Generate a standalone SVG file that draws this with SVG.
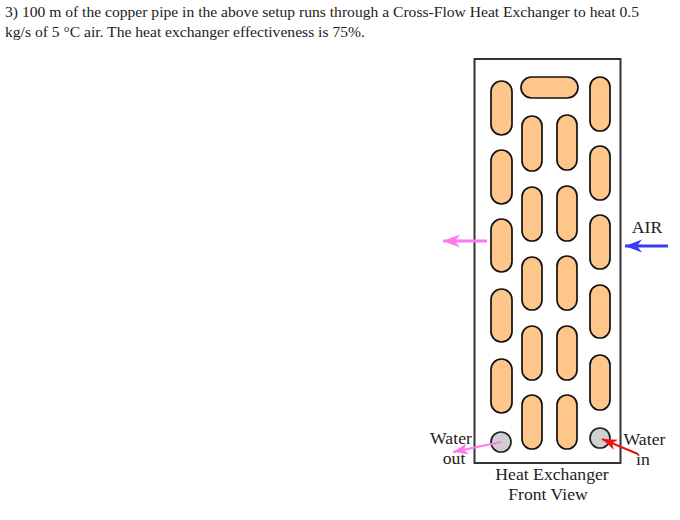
<svg xmlns="http://www.w3.org/2000/svg" width="680" height="520" viewBox="0 0 680 520">
<defs>
<marker id="head-pink" markerUnits="userSpaceOnUse" markerWidth="20" markerHeight="16" refX="18" refY="8" orient="auto"><path d="M18 8L1 1.500L6 8L1 14.500Z" fill="#ff77ee"/></marker>
<marker id="head-blue" markerUnits="userSpaceOnUse" markerWidth="20" markerHeight="16" refX="18" refY="8" orient="auto"><path d="M18 8L1 1.500L6 8L1 14.500Z" fill="#3a3af5"/></marker>
<marker id="head-pink-small" markerUnits="userSpaceOnUse" markerWidth="20" markerHeight="16" refX="16" refY="8" orient="auto"><path d="M16 8L1 2.500L5 8L1 13.500Z" fill="#ff77ee"/></marker>
<marker id="head-red" markerUnits="userSpaceOnUse" markerWidth="20" markerHeight="16" refX="16" refY="8" orient="auto"><path d="M16 8L1 2.500L5 8L1 13.500Z" fill="#f01010"/></marker>
</defs>
<style>
text{font-family:"Liberation Serif","Times New Roman",serif;fill:#222}
.t{font-size:15.600px}
.l{font-size:17.700px;text-anchor:middle}
.p{fill:#ffc68c;stroke:#111;stroke-width:1.700}
.c{fill:#d0d0d0;stroke:#222;stroke-width:1.700}
.b{fill:none;stroke:#333;stroke-width:2}
.a{fill:none;stroke-width:3}
</style>
<text class="t" x="5" y="17">3) 100 m of the copper pipe in the above setup runs through a Cross-Flow Heat Exchanger to heat 0.5</text>
<text class="t" x="5" y="37">kg/s of 5 °C air. The heat exchanger effectiveness is 75%.</text>
<g id="exchanger"><rect class="b" x="474.500" y="59" width="146" height="404"/></g>
<g id="tubes">
<rect class="p" x="521" y="77" width="57" height="21" rx="10.500"/>
<rect class="p" x="491" y="81" width="21" height="54" rx="10.500"/>
<rect class="p" x="491" y="150" width="21" height="54" rx="10.500"/>
<rect class="p" x="491" y="219" width="21" height="53" rx="10.500"/>
<rect class="p" x="491" y="289" width="21" height="53" rx="10.500"/>
<rect class="p" x="491" y="359" width="21" height="54" rx="10.500"/>
<rect class="p" x="522" y="116" width="20" height="55" rx="10"/>
<rect class="p" x="522" y="187" width="20" height="54" rx="10"/>
<rect class="p" x="522" y="257" width="20" height="53" rx="10"/>
<rect class="p" x="522" y="326" width="20" height="54" rx="10"/>
<rect class="p" x="522" y="395" width="20" height="54" rx="10"/>
<rect class="p" x="557" y="115" width="20" height="55" rx="10"/>
<rect class="p" x="557" y="186" width="20" height="55" rx="10"/>
<rect class="p" x="557" y="256" width="20" height="54" rx="10"/>
<rect class="p" x="557" y="326" width="20" height="54" rx="10"/>
<rect class="p" x="557" y="395" width="20" height="54" rx="10"/>
<rect class="p" x="590" y="77" width="20" height="54" rx="10"/>
<rect class="p" x="590" y="146" width="20" height="54" rx="10"/>
<rect class="p" x="590" y="215" width="20" height="54" rx="10"/>
<rect class="p" x="590" y="285" width="20" height="53" rx="10"/>
<rect class="p" x="590" y="355" width="20" height="55" rx="10"/>
</g>
<g id="water-out-port"><circle class="c" cx="501" cy="442" r="10"/><text class="l" x="451" y="444">Water</text><text class="l" x="454" y="464">out</text></g>
<g id="water-in-port"><circle class="c" cx="600" cy="438" r="10"/><text class="l" x="644.500" y="445">Water</text><text class="l" x="643" y="465">in</text></g>
<g id="air-label"><text class="l" x="647" y="233">AIR</text></g>
<g id="caption"><text class="l" x="552" y="480">Heat Exchanger</text><text class="l" x="548" y="500">Front View</text></g>
<g id="connectors">
<path class="a" d="M487 241H443" stroke="#ff77ee" marker-end="url(#head-pink)"/>
<path class="a" d="M668 246H625" stroke="#3a3af5" marker-end="url(#head-blue)"/>
<path stroke-width="2" fill="none" d="M501 442L453 452" stroke="#ff77ee" marker-end="url(#head-pink-small)"/>
<path stroke-width="2" fill="none" d="M638 454L602 439" stroke="#f01010" marker-end="url(#head-red)"/>
</g>
</svg>
